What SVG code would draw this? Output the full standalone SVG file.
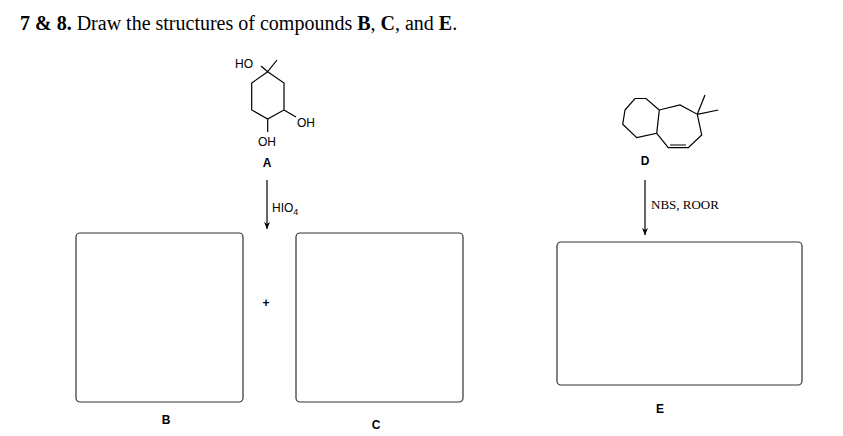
<svg xmlns="http://www.w3.org/2000/svg" width="843" height="436" viewBox="0 0 843 436">
<style>
.b{fill:none;stroke:#000;stroke-width:1.2}
.s{font-family:"Liberation Sans",Arial,sans-serif;font-size:12px}
.l{font-family:"Liberation Sans",Arial,sans-serif;font-size:12px;font-weight:bold;text-anchor:middle}
.box{fill:#fff;stroke:#333;stroke-width:1.2}
</style>
<defs><marker id="ah" markerWidth="8" markerHeight="8" refX="7" refY="4" orient="auto" markerUnits="userSpaceOnUse"><path d="M0,1 L7,4 L0,7 L2,4 Z" fill="#000"/></marker></defs>
<rect width="843" height="436" fill="#fff"/>
<text x="20" y="30" font-family="Liberation Serif,serif" font-size="20"><tspan font-weight="bold">7 &amp; 8.</tspan> Draw the structures of compounds <tspan font-weight="bold">B</tspan>, <tspan font-weight="bold">C</tspan>, and <tspan font-weight="bold">E</tspan>.</text>
<g id="A">
<path class="b" d="M267.7,71.7 L284,83 L284,110 L267.7,119 L251.7,110 L251.7,83 Z M267.7,71.7 L277,60 M267.7,71.7 L261,66 M284,110 L296,117 M267.7,119 L267.7,132"/>
<text class="s" x="235" y="68">HO</text>
<text class="s" x="297" y="127">OH</text>
<text class="s" x="258" y="146">OH</text>
<text class="l" x="267" y="167">A</text>
</g>
<g id="D">
<path class="b" d="M625,110 L635,98.5 L646,98.5 L659.3,110 L656.7,133.3 L636.7,137.7 L622.7,124.3 Z M659.3,110 L680,105 L697.3,114.3 L701.7,135 L688.3,147.7 L668.3,147.7 L656.7,133.3 M670,145 L686,145 M697.3,114.3 L705,95 M697.3,114.3 L718.3,110"/>
<text class="l" x="645" y="165">D</text>
</g>
<g id="connectors">
<line class="b" x1="267" y1="180" x2="267" y2="229" marker-end="url(#ah)"/>
<line class="b" x1="645" y1="180" x2="645" y2="235" marker-end="url(#ah)"/>
<text class="s" x="272" y="212">HIO<tspan font-size="9" dy="3">4</tspan></text>
<text x="651" y="209" font-family="Liberation Serif,serif" font-size="13">NBS, ROOR</text>
</g>
<g id="B"><rect class="box" x="76" y="233" width="167" height="169" rx="4"/><text class="l" x="166" y="424">B</text></g>
<text class="l" x="266" y="307">+</text>
<g id="C"><rect class="box" x="296" y="233" width="167" height="169" rx="4"/><text class="l" x="376" y="429">C</text></g>
<g id="E"><rect class="box" x="557" y="242" width="245" height="143" rx="4"/><text class="l" x="660" y="413">E</text></g>
</svg>
